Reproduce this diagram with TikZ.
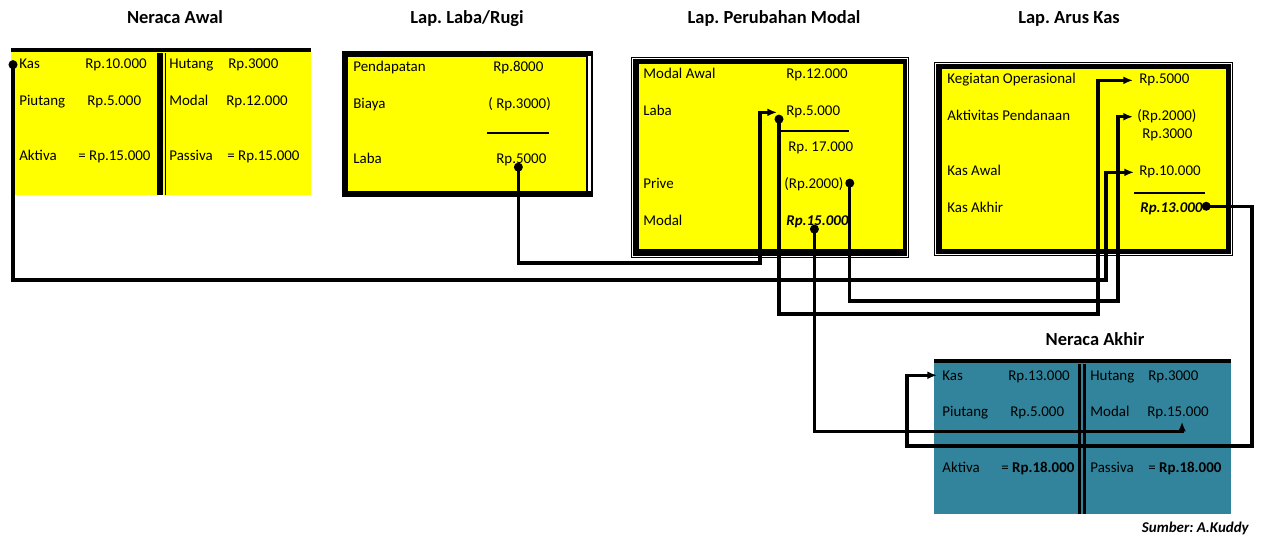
\documentclass[tikz,border=0pt]{standalone}
\usepackage{fontspec}
\setmainfont{Carlito}
\usetikzlibrary{arrows.meta, calc}
\definecolor{kuning}{RGB}{255,255,0}
\definecolor{biruTosca}{RGB}{49,132,155}
\frenchspacing

\begin{document}
\begin{tikzpicture}[x=0.02cm, y=-0.02cm,
  judul/.style={anchor=base, inner sep=0pt, font=\fontsize{10.5}{12}\selectfont\bfseries},
  isi/.style={anchor=base west, inner sep=0pt, font=\fontsize{8.5}{10}\selectfont},
  tebal/.style={isi, font=\fontsize{8.5}{10}\selectfont\bfseries\itshape},
  garis/.style={line width=0.6pt},
  link/.style={line width=1.8pt, {Circle[length=5pt]}-{Latex[length=5.5pt, width=4.5pt]}}
]
\useasboundingbox (0,0) rectangle (1273,543);
% Neraca Awal
\node[judul] (tNA) at (175,24) {Neraca Awal};
\fill[black] (11,48) rectangle (311,52);
\fill[kuning] (11,52) rectangle (311,195);
\fill[black] (157,53) rectangle (163,195);
\draw[garis] (165.5,53) -- (165.5,195);
\node[isi] (naKas) at (19,69) {Kas};
\node[isi] (naKasV) at (85,69) {Rp.10.000};
\node[isi] (naPiutang) at (19,106) {Piutang};
\node[isi] (naPiutangV) at (87,106) {Rp.5.000};
\node[isi] (naAktiva) at (19,161) {Aktiva};
\node[isi] (naAktivaV) at (78,161) {= Rp.15.000};
\node[isi] (naHutang) at (169,69) {Hutang};
\node[isi] (naHutangV) at (228,69) {Rp.3000};
\node[isi] (naModal) at (169,106) {Modal};
\node[isi] (naModalV) at (226,106) {Rp.12.000};
\node[isi] (naPassiva) at (169,161) {Passiva};
\node[isi] (naPassivaV) at (227,161) {= Rp.15.000};
% Lap. Laba/Rugi
\node[judul] (tLR) at (467,24) {Lap. Laba/Rugi};
\fill[black] (342,51) rectangle (593,197);
\fill[white] (588,56) rectangle (591,191);
\fill[kuning] (348,57) rectangle (586,191);
\node[isi] (lrPend) at (353,72) {Pendapatan};
\node[isi] (lrPendV) at (493,72) {Rp.8000};
\node[isi] (lrBiaya) at (353,109) {Biaya};
\node[isi] (lrBiayaV) at (488,109) {( Rp.3000)};
\draw[garis] (487,133) -- (549,133);
\node[isi] (lrLaba) at (353,164) {Laba};
\node[isi] (lrLabaV) at (496,164) {Rp.5000};
% Lap. Perubahan Modal
\node[judul] (tPM) at (774,24) {Lap. Perubahan Modal};
\draw[garis] (631.5,57.5) rectangle (908.5,257.5);
\fill[black] (633,59) rectangle (907,256);
\fill[kuning] (639,64) rectangle (903,249);
\node[isi] (pmAwal) at (643,79) {Modal Awal};
\node[isi] (pmAwalV) at (786,79) {Rp.12.000};
\node[isi] (pmLaba) at (643,116) {Laba};
\node[isi] (pmLabaV) at (786,116) {Rp.5.000};
\draw[garis] (779,131) -- (849,131);
\node[isi] (pmJumlah) at (788,152) {Rp. 17.000};
\node[isi] (pmPrive) at (643,189) {Prive};
\node[isi] (pmPriveV) at (784,189) {(Rp.2000)};
\node[isi] (pmModal) at (643,226) {Modal};
\node[tebal] (pmModalV) at (786,226) {Rp.15.000};
% Lap. Arus Kas
\node[judul] (tAK) at (1069,24) {Lap. Arus Kas};
\draw[garis] (934.5,62.5) rectangle (1232.5,255.5);
\fill[black] (936,64) rectangle (1231,254);
\fill[kuning] (942,69) rectangle (1226,249);
\node[isi] (akOps) at (947,84) {Kegiatan Operasional};
\node[isi] (akOpsV) at (1139,84) {Rp.5000};
\node[isi] (akPend) at (947,121) {Aktivitas Pendanaan};
\node[isi] (akPendV) at (1137,121) {(Rp.2000)};
\node[isi] (akPendW) at (1142,139) {Rp.3000};
\node[isi] (akKasAwal) at (947,176) {Kas Awal};
\node[isi] (akKasAwalV) at (1139,176) {Rp.10.000};
\draw[garis] (1134,193) -- (1205,193);
\node[isi] (akKasAkhir) at (947,213) {Kas Akhir};
\node[tebal] (akKasAkhirV) at (1140,213) {Rp.13.000};
% Neraca Akhir
\node[judul] (tNE) at (1095,346) {Neraca Akhir};
\fill[black] (934,359) rectangle (1231,363);
\fill[biruTosca] (934,363) rectangle (1231,514);
\fill[black] (1078,364) rectangle (1081,514);
\fill[black] (1083,364) rectangle (1086,514);
\node[isi] (neKas) at (942,380) {Kas};
\node[isi] (neKasV) at (1008,380) {Rp.13.000};
\node[isi] (nePiutang) at (942,417) {Piutang};
\node[isi] (nePiutangV) at (1010,417) {Rp.5.000};
\node[isi] (neAktiva) at (942,472) {Aktiva};
\node[isi] (neAktivaV) at (1001,472) {= \textbf{Rp.18.000}};
\node[isi] (neHutang) at (1090,380) {Hutang};
\node[isi] (neHutangV) at (1148,380) {Rp.3000};
\node[isi] (neModal) at (1090,417) {Modal};
\node[isi] (neModalV) at (1147,417) {Rp.15.000};
\node[isi] (nePassiva) at (1090,472) {Passiva};
\node[isi] (nePassivaV) at (1148,472) {= \textbf{Rp.18.000}};
\node[tebal, anchor=base east] (sumber) at (1249,532) {Sumber: A.Kuddy};
% penghubung
\draw[link] ($(naKas.west)+(-6,-4)$) |- (1106,280) |- ($(akKasAwalV.west)+(-5,0)$);
\draw[link] ($(lrLabaV.south)+(-3,-4)$) |- (760,263) |- ($(pmLabaV.west)+(-9,0)$);
\draw[link] ($(pmLabaV.south west)+(-7,-4)$) |- (1098,314) |- ($(akOpsV.west)+(-6,0)$);
\draw[link] ($(pmPriveV.east)+(6,-6)$) |- (1118,301) |- ($(akPendV.west)+(-4,0)$);
\draw[link] ($(pmModalV.south)+(-3,-4)$) |- ($(neModalV.south)+(4,12)$) -- ($(neModalV.south)+(4,2)$);
\draw[link] ($(akKasAkhirV.east)+(-1,-3)$) -| (1252,446) -| ($(neKas.west)+(-35,0)$) -- ($(neKas.west)+(-5,0)$);
\end{tikzpicture}
\end{document}
